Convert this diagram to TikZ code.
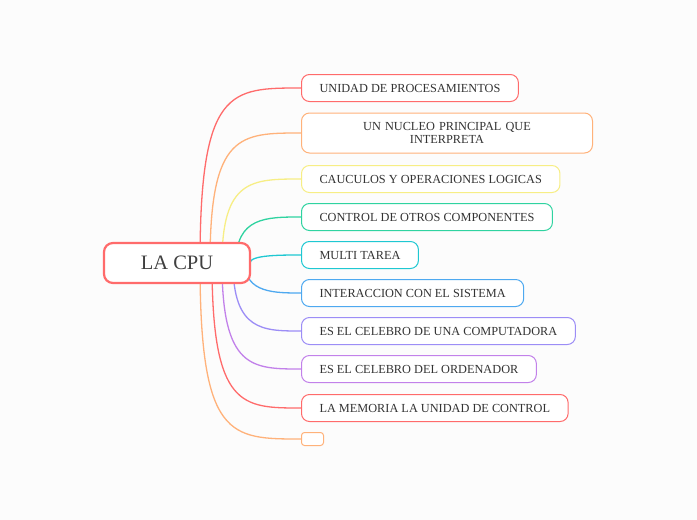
\documentclass[tikz,border=0pt]{standalone}
\usepackage{fontspec}
\setmainfont{Liberation Serif}
\usetikzlibrary{positioning}
\definecolor{cred}{HTML}{FF6B6B}
\definecolor{corange}{HTML}{FFB27A}
\definecolor{cyellow}{HTML}{F7EE85}
\definecolor{cgreen}{HTML}{2FD3A0}
\definecolor{ccyan}{HTML}{1FC8D2}
\definecolor{cblue}{HTML}{4EA9F0}
\definecolor{cpurple}{HTML}{9C8DF6}
\definecolor{cviolet}{HTML}{C281EA}
\tikzstyle{topic} = [draw=cred, line width=2.2pt, rounded corners=9pt, fill=white, minimum width=146pt, minimum height=40pt, font=\fontsize{20.5}{24}\selectfont, text=black!75]
\tikzstyle{sub} = [draw, line width=1pt, rounded corners=8pt, fill=white, anchor=west, minimum height=27pt, inner xsep=18pt, font=\fontsize{12.3}{14}\selectfont, text=black!80]
\tikzstyle{branch} = [line width=1.3pt]
\begin{document}
\begin{tikzpicture}[x=1pt, y=-1pt]
        \fill[black!1] (0,0) rectangle (697,520);
        \useasboundingbox (0,0) rectangle (697,520);
        % branches
        \foreach \sx/\cy/\col in {200/88/cred, 210/133/corange, 222/179/cyellow, 236/217/cgreen, 250/255/ccyan, 245/293/cblue, 233/331/cpurple, 222/369/cviolet, 212/408/cred, 200/439/corange}
            \draw[branch, draw=\col] (\sx,263) .. controls (\sx,\cy) and (\sx+30,\cy) .. (301,\cy);
        \node[topic] (cpu) at (177,263) {LA CPU};
        \node[sub, draw=cred] (proc) at (301,88) {UNIDAD DE PROCESAMIENTOS};
        \node[sub, draw=corange, minimum height=40pt, text width=255pt, align=center, font=\fontsize{12.3}{13.5}\selectfont] (nucleo) at (301,133) {UN NUCLEO PRINCIPAL QUE\\INTERPRETA};
        \node[sub, draw=cyellow] (calc) at (301,179) {CAUCULOS Y OPERACIONES LOGICAS};
        \node[sub, draw=cgreen] (ctrl) at (301,217) {CONTROL DE OTROS COMPONENTES};
        \node[sub, draw=ccyan] (multi) at (301,255) {MULTI TAREA};
        \node[sub, draw=cblue] (inter) at (301,293) {INTERACCION CON EL SISTEMA};
        \node[sub, draw=cpurple] (compu) at (301,331) {ES EL CELEBRO DE UNA COMPUTADORA};
        \node[sub, draw=cviolet] (orden) at (301,369) {ES EL CELEBRO DEL ORDENADOR};
        \node[sub, draw=cred] (mem) at (301,408) {LA MEMORIA LA UNIDAD DE CONTROL};
        \node[sub, draw=corange, minimum width=22pt, minimum height=13pt, inner sep=0pt, rounded corners=3pt] (empty) at (301,439) {};
\end{tikzpicture}
\end{document}
